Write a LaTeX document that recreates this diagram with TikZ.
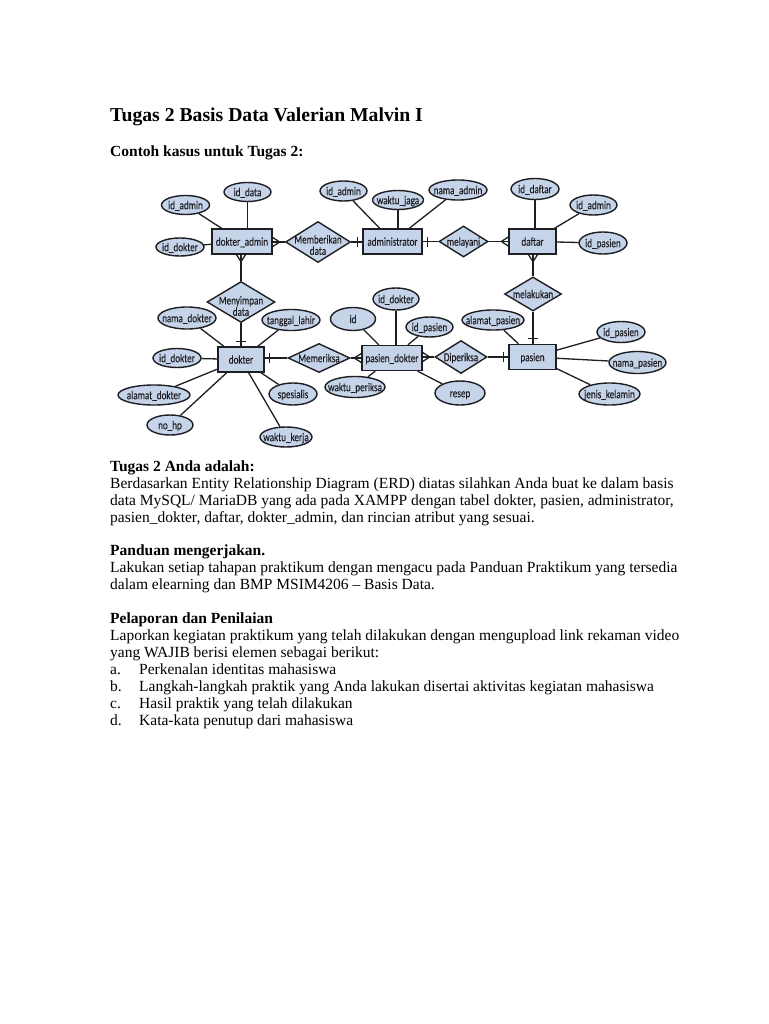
\documentclass[tikz,border=0pt]{standalone}
\usepackage{fontspec}
\setmainfont{Liberation Serif}
\newfontfamily\erfont[FakeStretch=0.76,FakeBold=0.15]{Carlito}
\usetikzlibrary{shapes.geometric,calc}
\definecolor{erfill}{RGB}{198,212,233}
\definecolor{erline}{RGB}{30,30,35}
\newcommand\zw[1]{\raisebox{-4.2pt}[0pt][0pt]{\makebox[0pt]{#1}}}
\newcommand\two[3]{\raisebox{#3}[0pt][0pt]{\makebox[0pt]{\begin{tabular}{@{}c@{}}#1\\#2\end{tabular}}}}
\newcommand\crowE[1]{\draw[conn] ($(#1)+(7,0)$) -- ($(#1)+(0,-4.5)$) ($(#1)+(7,0)$) -- ($(#1)+(0,4.5)$);}
\newcommand\crowW[1]{\draw[conn] ($(#1)+(-7,0)$) -- ($(#1)+(0,-4.5)$) ($(#1)+(-7,0)$) -- ($(#1)+(0,4.5)$);}
\newcommand\crowS[1]{\draw[conn] ($(#1)+(0,7)$) -- ($(#1)+(-4.5,0)$) ($(#1)+(0,7)$) -- ($(#1)+(4.5,0)$);}
\newcommand\barW[1]{\draw[conn] ($(#1)+(-5,-5)$) -- ($(#1)+(-5,5)$);}
\newcommand\barE[1]{\draw[conn] ($(#1)+(5,-5)$) -- ($(#1)+(5,5)$);}
\newcommand\barN[1]{\draw[conn] ($(#1)+(-5,-5)$) -- ($(#1)+(5,-5)$);}
\begin{document}
\begin{tikzpicture}[x=1pt,y=-1pt,
  erfnt/.style={font=\erfont\fontsize{12}{10}\selectfont,text=erline},
  ent/.style={rectangle,draw=erline,line width=1.4pt,fill=erfill,inner sep=0pt,minimum height=25,minimum width=#1,erfnt},
  attr/.style 2 args={ellipse,draw=erline,line width=1.4pt,fill=erfill,inner sep=0pt,minimum width=#1,minimum height=#2,erfnt},
  rel/.style 2 args={diamond,draw=erline,line width=1.4pt,fill=erfill,inner sep=0pt,minimum width=#1,minimum height=#2,erfnt},
  conn/.style={draw=erline,line width=1.3pt},
  body/.style={anchor=base west,inner sep=0pt,font=\fontsize{15.5}{17}\selectfont},
  bhead/.style={anchor=base west,inner sep=0pt,font=\fontsize{15.5}{17}\selectfont\bfseries},
  title/.style={anchor=base west,inner sep=0pt,font=\fontsize{19.7}{24}\selectfont\bfseries}]
\useasboundingbox[fill=white] (0,0) rectangle (768,1024);

% ---------- text ----------
\node[title] (t0) at (110,122) {Tugas 2 Basis Data Valerian Malvin I};
\node[bhead] (t1) at (110,157) {Contoh kasus untuk Tugas 2:};
\node[bhead] (t2) at (110,471) {Tugas 2 Anda adalah:};
\node[body] (t3) at (110,488) {Berdasarkan Entity Relationship Diagram (ERD) diatas silahkan Anda buat ke dalam basis};
\node[body] (t4) at (110,505) {data MySQL/ MariaDB yang ada pada XAMPP dengan tabel dokter, pasien, administrator,};
\node[body] (t5) at (110,522) {pasien\_dokter, daftar, dokter\_admin, dan rincian atribut yang sesuai.};
\node[bhead] (t6) at (110,555) {Panduan mengerjakan.};
\node[body] (t7) at (110,572) {Lakukan setiap tahapan praktikum dengan mengacu pada Panduan Praktikum yang tersedia};
\node[body] (t8) at (110,589) {dalam elearning dan BMP MSIM4206 – Basis Data.};
\node[bhead] (t9) at (110,623) {Pelaporan dan Penilaian};
\node[body] (t10) at (110,640) {Laporkan kegiatan praktikum yang telah dilakukan dengan mengupload link rekaman video};
\node[body] (t11) at (110,657) {yang WAJIB berisi elemen sebagai berikut:};
\node[body] (la) at (110,674) {a.};
\node[body] (ia) at (139,674) {Perkenalan identitas mahasiswa};
\node[body] (lb) at (110,691) {b.};
\node[body] (ib) at (139,691) {Langkah-langkah praktik yang Anda lakukan disertai aktivitas kegiatan mahasiswa};
\node[body] (lc) at (110,708) {c.};
\node[body] (ic) at (139,708) {Hasil praktik yang telah dilakukan};
\node[body] (ld) at (110,725) {d.};
\node[body] (id) at (139,725) {Kata-kata penutup dari mahasiswa};

% ---------- entities ----------
\node[ent=60] (da) at (242,241.5) {\zw{dokter\_admin}};
\node[ent=59] (adm) at (392.5,241.5) {\zw{administrator}};
\node[ent=47] (df) at (532.5,241.5) {\zw{daftar}};
\node[ent=46] (dk) at (241,359.5) {\zw{dokter}};
\node[ent=60] (pd) at (392,358) {\zw{pasien\_dokter}};
\node[ent=47] (ps) at (532.5,357) {\zw{pasien}};

% ---------- relationships ----------
\node[rel={65}{41}] (rmb) at (318,242) {\two{Memberikan}{data}{-7.5pt}};
\node[rel={49}{31}] (rml) at (463.5,241.5) {\zw{melayani}};
\node[rel={68}{41}] (rms) at (241,302) {\two{Menyimpan}{data}{-8.5pt}};
\node[rel={57}{34}] (rmk) at (533,294) {\zw{melakukan}};
\node[rel={62}{29}] (rme) at (319,358) {\zw{Memeriksa}};
\node[rel={52}{33}] (rdp) at (461,357) {\zw{Diperiksa}};

% ---------- attributes ----------
\node[attr={48}{19}] (a1) at (185.5,205) {\zw{id\_admin}};
\node[attr={47}{19}] (a2) at (247.5,192) {\zw{id\_data}};
\node[attr={48}{18}] (a3) at (180,247) {\zw{id\_dokter}};
\node[attr={47}{20}] (a4) at (343.5,191) {\zw{id\_admin}};
\node[attr={51}{19}] (a5) at (398,200) {\zw{waktu\_jaga}};
\node[attr={58}{20}] (a6) at (458,190) {\zw{nama\_admin}};
\node[attr={48}{21}] (a7) at (535,189) {\zw{id\_daftar}};
\node[attr={47}{20}] (a8) at (593.5,205) {\zw{id\_admin}};
\node[attr={48}{22}] (a9) at (603,243) {\zw{id\_pasien}};
\node[attr={58}{22}] (b1) at (187,318) {\zw{nama\_dokter}};
\node[attr={58}{21}] (b2) at (291,320) {\zw{tanggal\_lahir}};
\node[attr={48}{19}] (b3) at (177,358) {\zw{id\_dokter}};
\node[attr={72}{20}] (b4) at (154,395) {\zw{alamat\_dokter}};
\node[attr={46}{20}] (b5) at (170,425) {\zw{no\_hp}};
\node[attr={48}{22}] (b6) at (293,394) {\zw{spesialis}};
\node[attr={52}{20}] (b7) at (286,437) {\zw{waktu\_kerja}};
\node[attr={45}{23}] (c1) at (353,319) {\zw{id}};
\node[attr={46}{22}] (c2) at (396,299) {\zw{id\_dokter}};
\node[attr={47}{20}] (c3) at (429.5,327) {\zw{id\_pasien}};
\node[attr={60}{21}] (c4) at (355,387) {\zw{waktu\_periksa}};
\node[attr={50}{24}] (c5) at (460,393) {\zw{resep}};
\node[attr={62}{20}] (d1) at (493,320) {\zw{alamat\_pasien}};
\node[attr={48}{21}] (d2) at (621,332) {\zw{id\_pasien}};
\node[attr={57}{22}] (d3) at (637.5,362.5) {\zw{nama\_pasien}};
\node[attr={61}{22}] (d4) at (609.5,394) {\zw{jenis\_kelamin}};

% ---------- attribute connectors ----------
\draw[conn] (a1) -- (da);
\draw[conn] (a2.south) -- (a2.south |- da.north);
\draw[conn] (a3) -- (da);
\draw[conn] (a4) -- (adm);
\draw[conn] (a5.south) -- (a5.south |- adm.north);
\draw[conn] (a6) -- (adm);
\draw[conn] (a7.south) -- (a7.south |- df.north);
\draw[conn] (a8) -- (df);
\draw[conn] (a9) -- (df);
\draw[conn] (b1) -- (dk);
\draw[conn] (b2) -- (dk);
\draw[conn] (b3) -- (dk);
\draw[conn] (b4) -- (dk);
\draw[conn] (b5) -- (dk);
\draw[conn] (b6) -- (dk);
\draw[conn] (b7) -- (dk);
\draw[conn] (c1) -- (pd);
\draw[conn] (c2.south) -- (c2.south |- pd.north);
\draw[conn] (c3) -- (pd);
\draw[conn] (c4) -- (pd);
\draw[conn] (c5) -- (pd);
\draw[conn] (d1) -- (ps);
\draw[conn] (d2) -- (ps);
\draw[conn] (d3) -- (ps);
\draw[conn] (d4) -- (ps);

% ---------- relationship connectors ----------
\coordinate (p1) at (rmb.west -| da.east);
\draw[conn] (rmb.west) -- (p1); \crowE{p1}
\coordinate (p2) at (rmb.east -| adm.west);
\draw[conn] (rmb.east) -- (p2); \barW{p2}
\coordinate (p3) at (rml.west -| adm.east);
\draw[conn] (rml.west) -- (p3); \barE{p3}
\coordinate (p4) at (rml.east -| df.west);
\draw[conn] (rml.east) -- (p4); \crowW{p4}
\coordinate (p5) at (rms.north |- da.south);
\draw[conn] (rms.north) -- (p5); \crowS{p5}
\coordinate (p6) at (rms.south |- dk.north);
\draw[conn] (rms.south) -- (p6); \barN{p6}
\coordinate (p7) at (rmk.north |- df.south);
\draw[conn] (rmk.north) -- (p7); \crowS{p7}
\coordinate (p8) at (rmk.south |- ps.north);
\draw[conn] (rmk.south) -- (p8); \barN{p8}
\coordinate (p9) at (rme.west -| dk.east);
\draw[conn] (rme.west) -- (p9); \barE{p9}
\coordinate (p10) at (rme.east -| pd.west);
\draw[conn] (rme.east) -- (p10); \crowW{p10}
\coordinate (p11) at (rdp.west -| pd.east);
\draw[conn] (rdp.west) -- (p11); \crowE{p11}
\coordinate (p12) at (rdp.east -| ps.west);
\draw[conn] (rdp.east) -- (p12); \barW{p12}
\end{tikzpicture}
\end{document}
